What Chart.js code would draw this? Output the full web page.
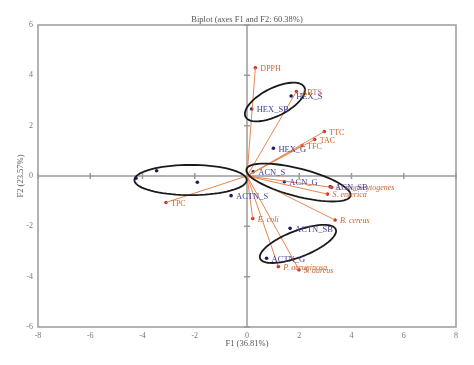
<!DOCTYPE html>
<html>
<head>
<meta charset="utf-8">
<script src="https://cdn.jsdelivr.net/npm/chart.js@4.4.1/dist/chart.umd.min.js"></script>
<style>
  html, body { margin: 0; padding: 0; background: #fff; }
  #wrap { width: 474px; height: 365px; position: relative; }
</style>
</head>
<body>
<div id="wrap"><canvas id="biplot"></canvas></div>
<script>
// observations (blue)
const obsNames = ['HEX_S', 'HEX_SB', 'HEX_G', 'ACN_S', 'ACN_G', 'ACN_SB', 'ACTN_S', 'ACTN_SB', 'ACTN_G', '', '', ''];
const obsX = [1.69, 0.18, 1.01, 0.24, 1.43, 3.18, -0.61, 1.65, 0.75, -4.25, -3.46, -1.90];
const obsY = [3.18, 2.66, 1.10, 0.17, -0.23, -0.43, -0.78, -2.08, -3.27, -0.09, 0.21, -0.25];

// variables (red, vectors from origin)
const varNames = ['DPPH', 'ABTS', 'TTC', 'TAC', 'TFC', 'TPC', 'L. monocytogenes', 'S. enterica', 'B. cereus', 'E. coli', 'P. aeruginosa', 'S. aureus'];
const varX = [0.32, 1.89, 2.96, 2.59, 2.11, -3.10, 3.24, 3.08, 3.37, 0.22, 1.20, 1.99];
const varY = [4.30, 3.36, 1.77, 1.45, 1.21, -1.05, -0.45, -0.72, -1.75, -1.69, -3.60, -3.73];
const varItalic = [false, false, false, false, false, false, true, true, true, true, true, true];

// group ellipses: centre, semi-axes (data units), rotation in degrees
const ellCx = [1.07, -2.16, 1.97, 1.95];
const ellCy = [2.94, -0.16, -0.26, -2.70];
const ellA = [1.27, 2.15, 2.06, 1.56];
const ellB = [0.55, 0.60, 0.55, 0.52];
const ellRot = [28, 0, -15, 22];

const xTicks = [-8, -6, -4, -2, 0, 2, 4, 6, 8];
const yTicks = [-6, -4, -2, 0, 2, 4, 6];

const SERIF = '"Liberation Serif", "DejaVu Serif", serif';
const LINE_COL = '#e8844f';
const VAR_PT = '#d42a1e';
const VAR_TXT = '#c8642e';
const OBS_PT = '#1c1c5c';
const OBS_TXT = '#3f3f9c';
const AXIS_COL = '#9a9a9a';

const datasets = [];
varX.forEach((x, i) => {
  datasets.push({
    type: 'line',
    data: [{x: 0, y: 0}, {x: x, y: varY[i]}],
    borderColor: LINE_COL,
    borderWidth: 1,
    pointRadius: 0,
    fill: false
  });
});
datasets.push({
  label: 'vars',
  data: varX.map((x, i) => ({x: x, y: varY[i]})),
  backgroundColor: VAR_PT,
  borderWidth: 0,
  pointRadius: 1.8
});
datasets.push({
  label: 'obs',
  data: obsX.map((x, i) => ({x: x, y: obsY[i]})),
  backgroundColor: OBS_PT,
  borderWidth: 0,
  pointRadius: 1.8
});

// frame, zero axes with tick marks, title, ellipses, labels
const axesPlugin = {
  id: 'axesPlugin',
  beforeDatasetsDraw(chart) {
    const {ctx, chartArea: a, scales: {x, y}} = chart;
    ctx.save();
    ctx.strokeStyle = AXIS_COL;
    ctx.lineWidth = 1.5;
    ctx.strokeRect(a.left, a.top, a.right - a.left, a.bottom - a.top);
    const x0 = x.getPixelForValue(0), y0 = y.getPixelForValue(0);
    ctx.beginPath();
    ctx.moveTo(x0, a.top); ctx.lineTo(x0, a.bottom);
    ctx.moveTo(a.left, y0); ctx.lineTo(a.right, y0);
    xTicks.forEach(t => {
      const px = x.getPixelForValue(t);
      ctx.moveTo(px, y0 - 3); ctx.lineTo(px, y0 + 3);
    });
    yTicks.forEach(t => {
      const py = y.getPixelForValue(t);
      ctx.moveTo(x0 - 3, py); ctx.lineTo(x0 + 3, py);
    });
    ctx.stroke();
    ctx.fillStyle = '#555';
    ctx.font = '8.5px ' + SERIF;
    ctx.textAlign = 'center';
    ctx.textBaseline = 'middle';
    ctx.fillText('Biplot (axes F1 and F2: 60.38%)', x0, 20);
    ctx.restore();
  },
  afterDatasetsDraw(chart) {
    const {ctx, scales: {x, y}} = chart;
    ctx.save();
    // ellipses
    ctx.strokeStyle = '#1a1a1a';
    ctx.lineWidth = 1.8;
    ellCx.forEach((cx, k) => {
      const r = ellRot[k] * Math.PI / 180;
      ctx.beginPath();
      for (let s = 0; s <= 72; s++) {
        const t = s / 72 * 2 * Math.PI;
        const u = ellA[k] * Math.cos(t), v = ellB[k] * Math.sin(t);
        const dx = cx + u * Math.cos(r) - v * Math.sin(r);
        const dy = ellCy[k] + u * Math.sin(r) + v * Math.cos(r);
        const px = x.getPixelForValue(dx), py = y.getPixelForValue(dy);
        if (s === 0) ctx.moveTo(px, py); else ctx.lineTo(px, py);
      }
      ctx.closePath();
      ctx.stroke();
    });
    // labels
    ctx.textBaseline = 'middle';
    ctx.textAlign = 'left';
    varNames.forEach((n, i) => {
      ctx.fillStyle = VAR_TXT;
      ctx.font = (varItalic[i] ? 'italic ' : '') + '8px ' + SERIF;
      ctx.fillText(n, x.getPixelForValue(varX[i]) + 5, y.getPixelForValue(varY[i]) + 1);
    });
    ctx.fillStyle = OBS_TXT;
    ctx.font = '8.5px ' + SERIF;
    obsNames.forEach((n, i) => {
      if (!n) return;
      ctx.fillText(n, x.getPixelForValue(obsX[i]) + 5, y.getPixelForValue(obsY[i]) + 1);
    });
    ctx.restore();
  }
};

new Chart(document.getElementById('biplot'), {
  type: 'scatter',
  data: {datasets: datasets},
  plugins: [axesPlugin],
  options: {
    responsive: true,
    maintainAspectRatio: false,
    animation: false,
    layout: {padding: {top: 25, right: 18, bottom: 12, left: 12}},
    plugins: {legend: {display: false}, tooltip: {enabled: false}, title: {display: false}},
    scales: {
      x: {
        min: -8, max: 8,
        afterFit(s) { s.height = 26; },
        afterBuildTicks(s) { s.ticks = xTicks.map(v => ({value: v})); },
        grid: {display: false, drawTicks: false},
        border: {display: false},
        ticks: {color: '#777', font: {family: SERIF, size: 8}, padding: 4},
        title: {display: true, text: 'F1 (36.81%)', color: '#555', font: {family: SERIF, size: 8.5}}
      },
      y: {
        min: -6, max: 6,
        afterFit(s) { s.width = 26; },
        afterBuildTicks(s) { s.ticks = yTicks.map(v => ({value: v})); },
        grid: {display: false, drawTicks: false},
        border: {display: false},
        ticks: {color: '#777', font: {family: SERIF, size: 8}, padding: 5},
        title: {display: true, text: 'F2 (23.57%)', color: '#555', font: {family: SERIF, size: 8.5}}
      }
    }
  }
});
</script>
</body>
</html>
